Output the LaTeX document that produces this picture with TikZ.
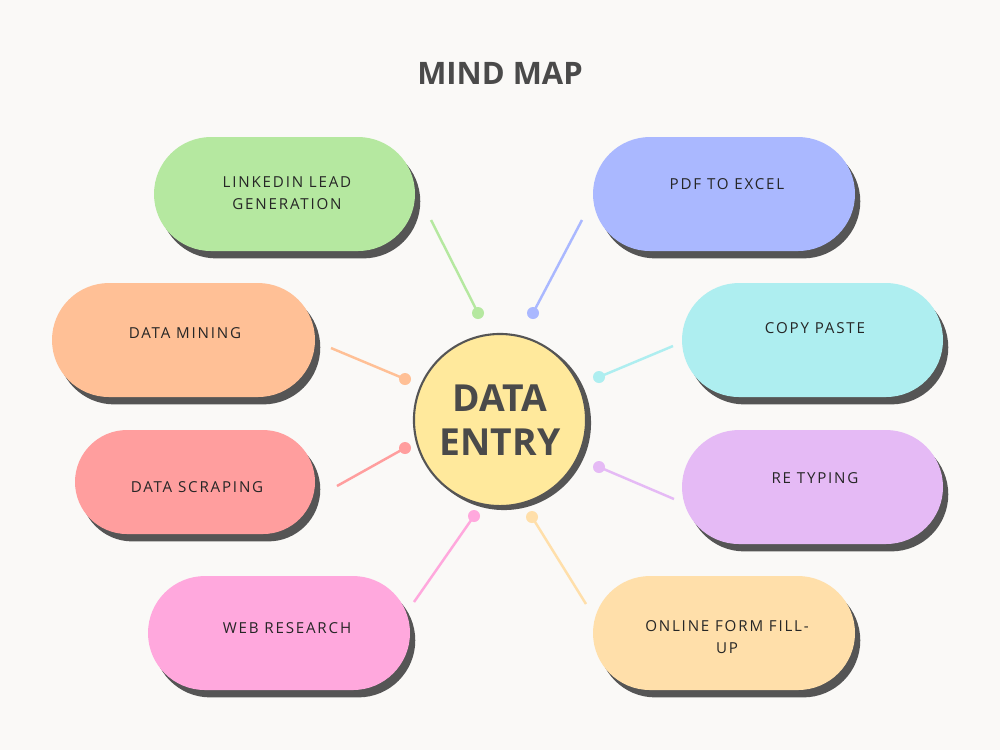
\documentclass[tikz,border=0pt]{standalone}
\usepackage{fontspec}
\setmainfont{Open Sans}
\newfontfamily\spaced[LetterSpace=12]{Open Sans}
\begin{document}
\begin{tikzpicture}[x=0.01cm,y=-0.01cm,
  pill/.style={draw=none, rounded corners=#1, inner sep=0pt,
    preaction={fill=shd, transform canvas={xshift=1.5pt,yshift=-2.1pt}}},
  ptext/.style={font=\spaced\fontsize{4.3}{6.2}\selectfont, text=black!85, align=center},
  dot/.style={circle, fill=#1, inner sep=0pt, minimum size=0.12cm},
  conn/.style={draw=#1, line width=0.7pt}]
\definecolor{shd}{HTML}{555555}
\definecolor{bg}{HTML}{FAF9F7}
\definecolor{cg}{HTML}{B5E8A0}
\definecolor{cb}{HTML}{AAB8FF}
\definecolor{co}{HTML}{FFC096}
\definecolor{cc}{HTML}{AEEEF0}
\definecolor{cr}{HTML}{FF9E9E}
\definecolor{cp}{HTML}{E5BAF5}
\definecolor{ck}{HTML}{FFA8DD}
\definecolor{cy}{HTML}{FFDFAA}
\definecolor{cyl}{HTML}{FFE99C}
\definecolor{tx}{HTML}{4A4A4A}
\fill[bg] (0,0) rectangle (1000,750);
\useasboundingbox (0,0) rectangle (1000,750);
\node[font=\bfseries\fontsize{8.8}{10}\selectfont, text=tx] (title) at (500,73) {MIND MAP};
% pills
\path[pill=0.57cm, fill=cg] (154,137) rectangle (415,251);
\path[pill=0.57cm, fill=cb] (593,137) rectangle (855,251);
\path[pill=0.57cm, fill=co] (52,283) rectangle (315,397);
\path[pill=0.57cm, fill=cc] (682,283) rectangle (943,397);
\path[pill=0.52cm, fill=cr] (75,430) rectangle (315,534);
\path[pill=0.57cm, fill=cp] (682,430) rectangle (943,544);
\path[pill=0.57cm, fill=ck] (148,576) rectangle (410,690);
\path[pill=0.57cm, fill=cy] (593,576) rectangle (855,690);
\node[ptext] (t1) at (287,193) {LINKEDIN LEAD\\GENERATION};
\node[ptext] (t2) at (727,184) {PDF TO EXCEL};
\node[ptext] (t3) at (185,333) {DATA MINING};
\node[ptext] (t4) at (815,328) {COPY PASTE};
\node[ptext] (t5) at (197,487) {DATA SCRAPING};
\node[ptext] (t6) at (815,478) {RE TYPING};
\node[ptext] (t7) at (287,628) {WEB RESEARCH};
\node[ptext] (t8) at (727,637) {ONLINE FORM FILL-\\UP};
% center
\fill[shd] (504,423) circle (0.87cm);
\node[circle, draw=shd, line width=0.6pt, fill=cyl, minimum size=1.72cm, inner sep=0pt,
  font=\bfseries\fontsize{10.6}{12.6}\selectfont, text=tx, align=center] (c) at (500,420) {DATA\\ENTRY};
% connectors
\coordinate (a1) at (431,220); \node[dot=cg] (d1) at (478,313) {};
\coordinate (a2) at (582,220); \node[dot=cb] (d2) at (533,313) {};
\coordinate (a3) at (331,348); \node[dot=co] (d3) at (405,379) {};
\coordinate (a4) at (673,346); \node[dot=cc] (d4) at (599,377) {};
\coordinate (a5) at (337,486); \node[dot=cr] (d5) at (405,448) {};
\coordinate (a6) at (674,499); \node[dot=cp] (d6) at (599,467) {};
\coordinate (a7) at (414,602); \node[dot=ck] (d7) at (474,516) {};
\coordinate (a8) at (586,604); \node[dot=cy] (d8) at (532,517) {};
\draw[conn=cg] (a1) -- (d1.center);
\draw[conn=cb] (a2) -- (d2.center);
\draw[conn=co] (a3) -- (d3.center);
\draw[conn=cc] (a4) -- (d4.center);
\draw[conn=cr] (a5) -- (d5.center);
\draw[conn=cp] (a6) -- (d6.center);
\draw[conn=ck] (a7) -- (d7.center);
\draw[conn=cy] (a8) -- (d8.center);
\end{tikzpicture}
\end{document}
